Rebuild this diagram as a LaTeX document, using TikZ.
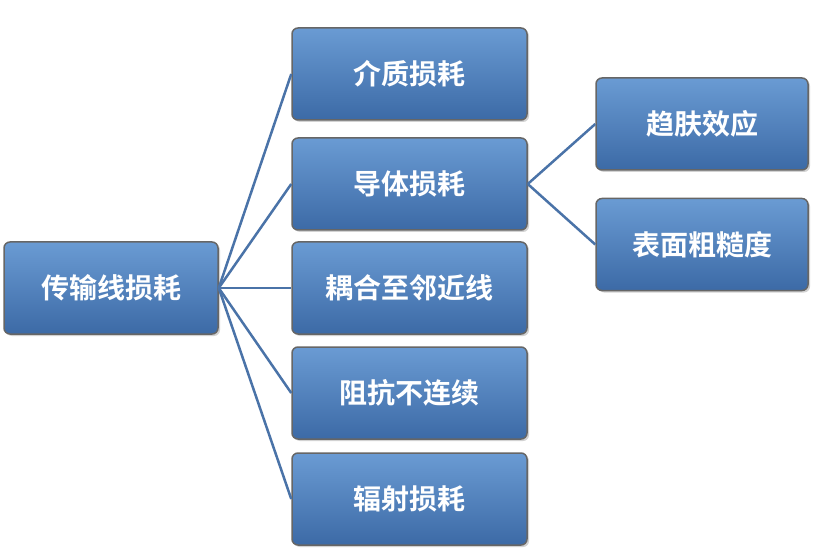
\documentclass[tikz,border=0pt]{standalone}
\usepackage{fontspec}
\newfontfamily\cjk{Noto Sans CJK SC Bold}
\usetikzlibrary{shadows}
\definecolor{btop}{HTML}{6A9BD3}
\definecolor{bbot}{HTML}{3C6AA6}
\definecolor{lnc}{HTML}{4A73A8}
\tikzset{
 bx/.style={draw=gray!80!black,line width=1.5pt,rounded corners=6pt,top color=btop,bottom color=bbot,
   minimum width=#1,minimum height=92pt,inner sep=0pt,text=white,font=\cjk\fontsize{28}{28}\selectfont,
   drop shadow={shadow xshift=2pt,shadow yshift=-2pt,opacity=0.35}},
 bx/.default=235pt,
 ln/.style={draw=lnc,line width=2.5pt}
}
\begin{document}
\begin{tikzpicture}[x=1pt,y=-1pt]
\useasboundingbox[fill=white] (0,0) rectangle (813,553);
\node[bx=214pt] (r) at (111,288) {传输线损耗};
\node[bx] (a) at (409.5,74) {介质损耗};
\node[bx] (b) at (409.5,184) {导体损耗};
\node[bx] (c) at (409.5,288) {耦合至邻近线};
\node[bx] (d) at (409.5,393) {阻抗不连续};
\node[bx] (e) at (409.5,499) {辐射损耗};
\node[bx=212pt] (f) at (702,124) {趋肤效应};
\node[bx=212pt] (g) at (702,244.5) {表面粗糙度};
\foreach \t in {a,b,c,d,e} \draw[ln] (r.east) -- (\t.west);
\draw[ln] (b.east) -- (f.west);
\draw[ln] (b.east) -- (g.west);
\end{tikzpicture}
\end{document}
